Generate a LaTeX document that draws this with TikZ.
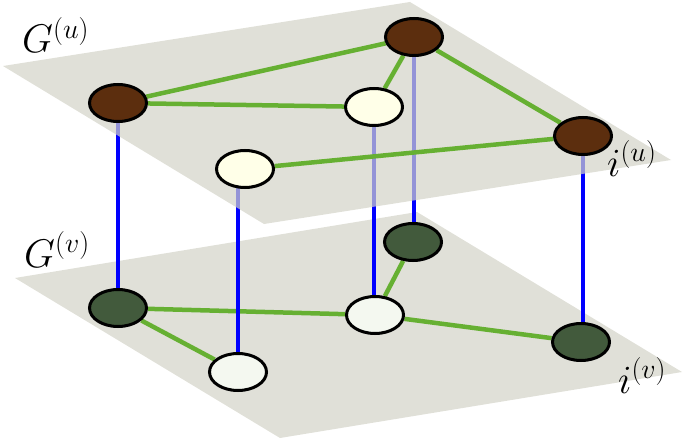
\RequirePackage{fix-cm}
\documentclass[tikz,border=0pt]{standalone}
\usetikzlibrary{shapes.geometric}
\definecolor{planefill}{RGB}{224,224,216}
\definecolor{planetop}{RGB}{211,211,199}
\definecolor{brownnode}{RGB}{92,46,14}
\definecolor{creamnode}{RGB}{255,255,232}
\definecolor{darkgreen}{RGB}{66,90,60}
\definecolor{palenode}{RGB}{244,248,240}
\definecolor{edgegreen}{RGB}{102,176,50}
\pgfdeclarelayer{bplane}
\pgfdeclarelayer{bedge}
\pgfdeclarelayer{vlink}
\pgfdeclarelayer{bnode}
\pgfdeclarelayer{tplane}
\pgfdeclarelayer{tedge}
\pgfsetlayers{bplane,bedge,vlink,bnode,tplane,tedge,main}
\tikzset{
  vnode/.style={ellipse, draw=black, line width=3pt, minimum width=57pt, minimum height=37pt, inner sep=0pt},
  brownv/.style={vnode, fill=brownnode},
  creamv/.style={vnode, fill=creamnode},
  greenv/.style={vnode, fill=darkgreen},
  palev/.style={vnode, fill=palenode},
  gedge/.style={line width=4.5pt, edgegreen},
  vline/.style={line width=4pt, blue},
  lbl/.style={font=\fontsize{40}{48}\selectfont, inner sep=0pt, anchor=base west}
}
\begin{document}
\begin{tikzpicture}[x=1pt, y=-1pt]
\useasboundingbox (0,0) rectangle (685,441);
% top nodes
\node[brownv] (T1) at (414,37) {};
\node[brownv] (T2) at (118,103) {};
\node[creamv] (T3) at (374,107) {};
\node[brownv] (T4) at (583,136) {};
\node[creamv] (T5) at (245,169) {};
% labels
\node[lbl] (Gu) at (22,53) {$G^{(u)}$};
\node[lbl] (iu) at (607,176) {$i^{(u)}$};
\node[lbl] (Gv) at (24,267) {$G^{(v)}$};
\node[lbl] (iv) at (618,393) {$i^{(v)}$};
% bottom nodes
\begin{pgfonlayer}{bnode}
\node[greenv] (B1) at (413,242) {};
\node[greenv] (B2) at (118,308) {};
\node[palev]  (B3) at (375,315) {};
\node[greenv] (B4) at (581,342) {};
\node[palev]  (B5) at (238,372) {};
\end{pgfonlayer}
% bottom plane
\begin{pgfonlayer}{bplane}
\fill[planefill] (15,278) -- (417,212) -- (682,372) -- (280,438) -- cycle;
\end{pgfonlayer}
% bottom edges
\begin{pgfonlayer}{bedge}
\draw[gedge] (B2) -- (B3);
\draw[gedge] (B2) -- (B5);
\draw[gedge] (B3) -- (B1);
\draw[gedge] (B3) -- (B4);
\end{pgfonlayer}
% vertical links
\begin{pgfonlayer}{vlink}
\draw[vline] (T1.center) -- (T1.center |- B1.center);
\draw[vline] (T2.center) -- (T2.center |- B2.center);
\draw[vline] (T3.center) -- (T3.center |- B3.center);
\draw[vline] (T4.center) -- (T4.center |- B4.center);
\draw[vline] (B5.center) -- (B5.center |- T5.center);
\end{pgfonlayer}
% top plane (semi-transparent)
\begin{pgfonlayer}{tplane}
\fill[planetop, fill opacity=0.7] (3,66) -- (410,2) -- (671,160) -- (264,224) -- cycle;
\end{pgfonlayer}
% top edges
\begin{pgfonlayer}{tedge}
\draw[gedge] (T2) -- (T1);
\draw[gedge] (T2) -- (T3);
\draw[gedge] (T3) -- (T1);
\draw[gedge] (T1) -- (T4);
\draw[gedge] (T5) -- (T4);
\end{pgfonlayer}
\end{tikzpicture}
\end{document}
